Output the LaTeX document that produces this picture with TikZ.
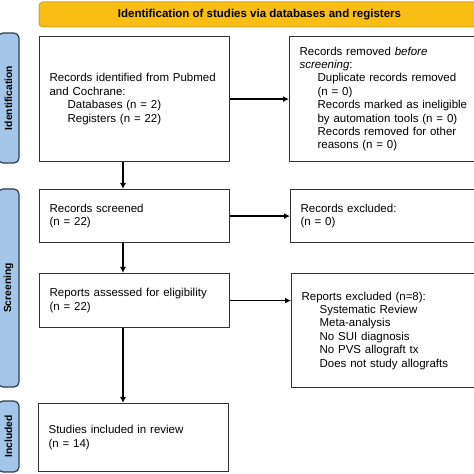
\documentclass[tikz,border=0pt]{standalone}
\usepackage{fontspec}
\setmainfont{Liberation Sans}
\usetikzlibrary{arrows.meta,calc}
\definecolor{bannerfill}{HTML}{F8BE14}
\definecolor{bannerline}{HTML}{D9A21B}
\definecolor{sidefill}{HTML}{A4C6E8}
\definecolor{sideline}{HTML}{2F3E4E}
\definecolor{boxline}{HTML}{333333}
\begin{document}
\begin{tikzpicture}[x=1pt,y=1pt,
  box/.style={draw=boxline, line width=1.2pt, rectangle, anchor=north west, align=left,
    inner xsep=10pt, inner ysep=0pt, minimum width=190pt,
    font=\fontsize{11.5}{13.4}\selectfont},
  rbox/.style={box, minimum width=200pt, text width=180pt},
  lbox/.style={box, text width=170pt},
  arr/.style={draw=black, line width=1.2pt, -{Latex[length=6pt,width=6pt]}},
  sidebar/.style={draw=sideline, fill=sidefill, line width=1.2pt, rounded corners=5pt,
    rotate=90, minimum height=21pt, inner sep=0pt,
    font=\bfseries\fontsize{10.3}{12}\selectfont},
  banner/.style={draw=bannerline, fill=bannerfill, line width=1pt, rounded corners=4pt,
    minimum width=441pt, minimum height=25pt, inner sep=0pt,
    font=\bfseries\fontsize{11.5}{13}\selectfont}]
\useasboundingbox (0,0) rectangle (474,474);
\clip (0,0) rectangle (474,474);
\node[banner] (ban) at (259.5,459.5) {Identification of studies via databases and registers};
\node[sidebar, minimum width=130pt] (sid1) at (8.5,376) {Identification};
\node[sidebar, minimum width=198pt] (sid2) at (8.5,186) {Screening};
\node[sidebar, minimum width=71pt] (sid3) at (8.5,37.5) {Included};

\node[lbox, minimum height=125pt] (box1) at (39,438) {Records identified from Pubmed\\and Cochrane:\\\hspace*{18pt}Databases (n = 2)\\\hspace*{18pt}Registers (n = 22)};
\node[rbox, minimum height=125pt] (box2) at (289,438) {Records removed \textit{before}\\\textit{screening}:\\\hspace*{18pt}Duplicate records removed\\\hspace*{18pt}(n = 0)\\\hspace*{18pt}Records marked as ineligible\\\hspace*{18pt}by automation tools (n = 0)\\\hspace*{18pt}Records removed for other\\\hspace*{18pt}reasons (n = 0)};
\node[lbox, minimum height=53pt] (box3) at (39,285) {Records screened\\(n = 22)};
\node[rbox, minimum height=53pt] (box4) at (290,285) {Records excluded:\\(n = 0)};
\node[lbox, minimum height=54pt] (box5) at (39,201) {Reports assessed for eligibility\\(n = 22)};
\node[rbox, minimum height=114pt] (box6) at (291,201) {Reports excluded (n=8):\\\hspace*{18pt}Systematic Review\\\hspace*{18pt}Meta-analysis\\\hspace*{18pt}No SUI diagnosis\\\hspace*{18pt}No PVS allograft tx\\\hspace*{18pt}Does not study allografts};
\node[lbox, minimum height=68pt] (box7) at (38,71) {Studies included in review\\(n = 14)};

\coordinate (c1) at ($(box1.south west)+(84,0)$);
\coordinate (c3) at ($(box3.south west)+(84,0)$);
\coordinate (c5) at ($(box5.south west)+(84,0)$);
\draw[arr] (box1.east) -- (box2.west);
\draw[arr] (box3.east) -- (box4.west);
\draw[arr] (box5.east) -- (box5.east -| box6.west);
\draw[arr] (c1) -- (c1 |- box3.north);
\draw[arr] (c3) -- (c3 |- box5.north);
\draw[arr] (c5) -- (c5 |- box7.north);
\end{tikzpicture}
\end{document}
